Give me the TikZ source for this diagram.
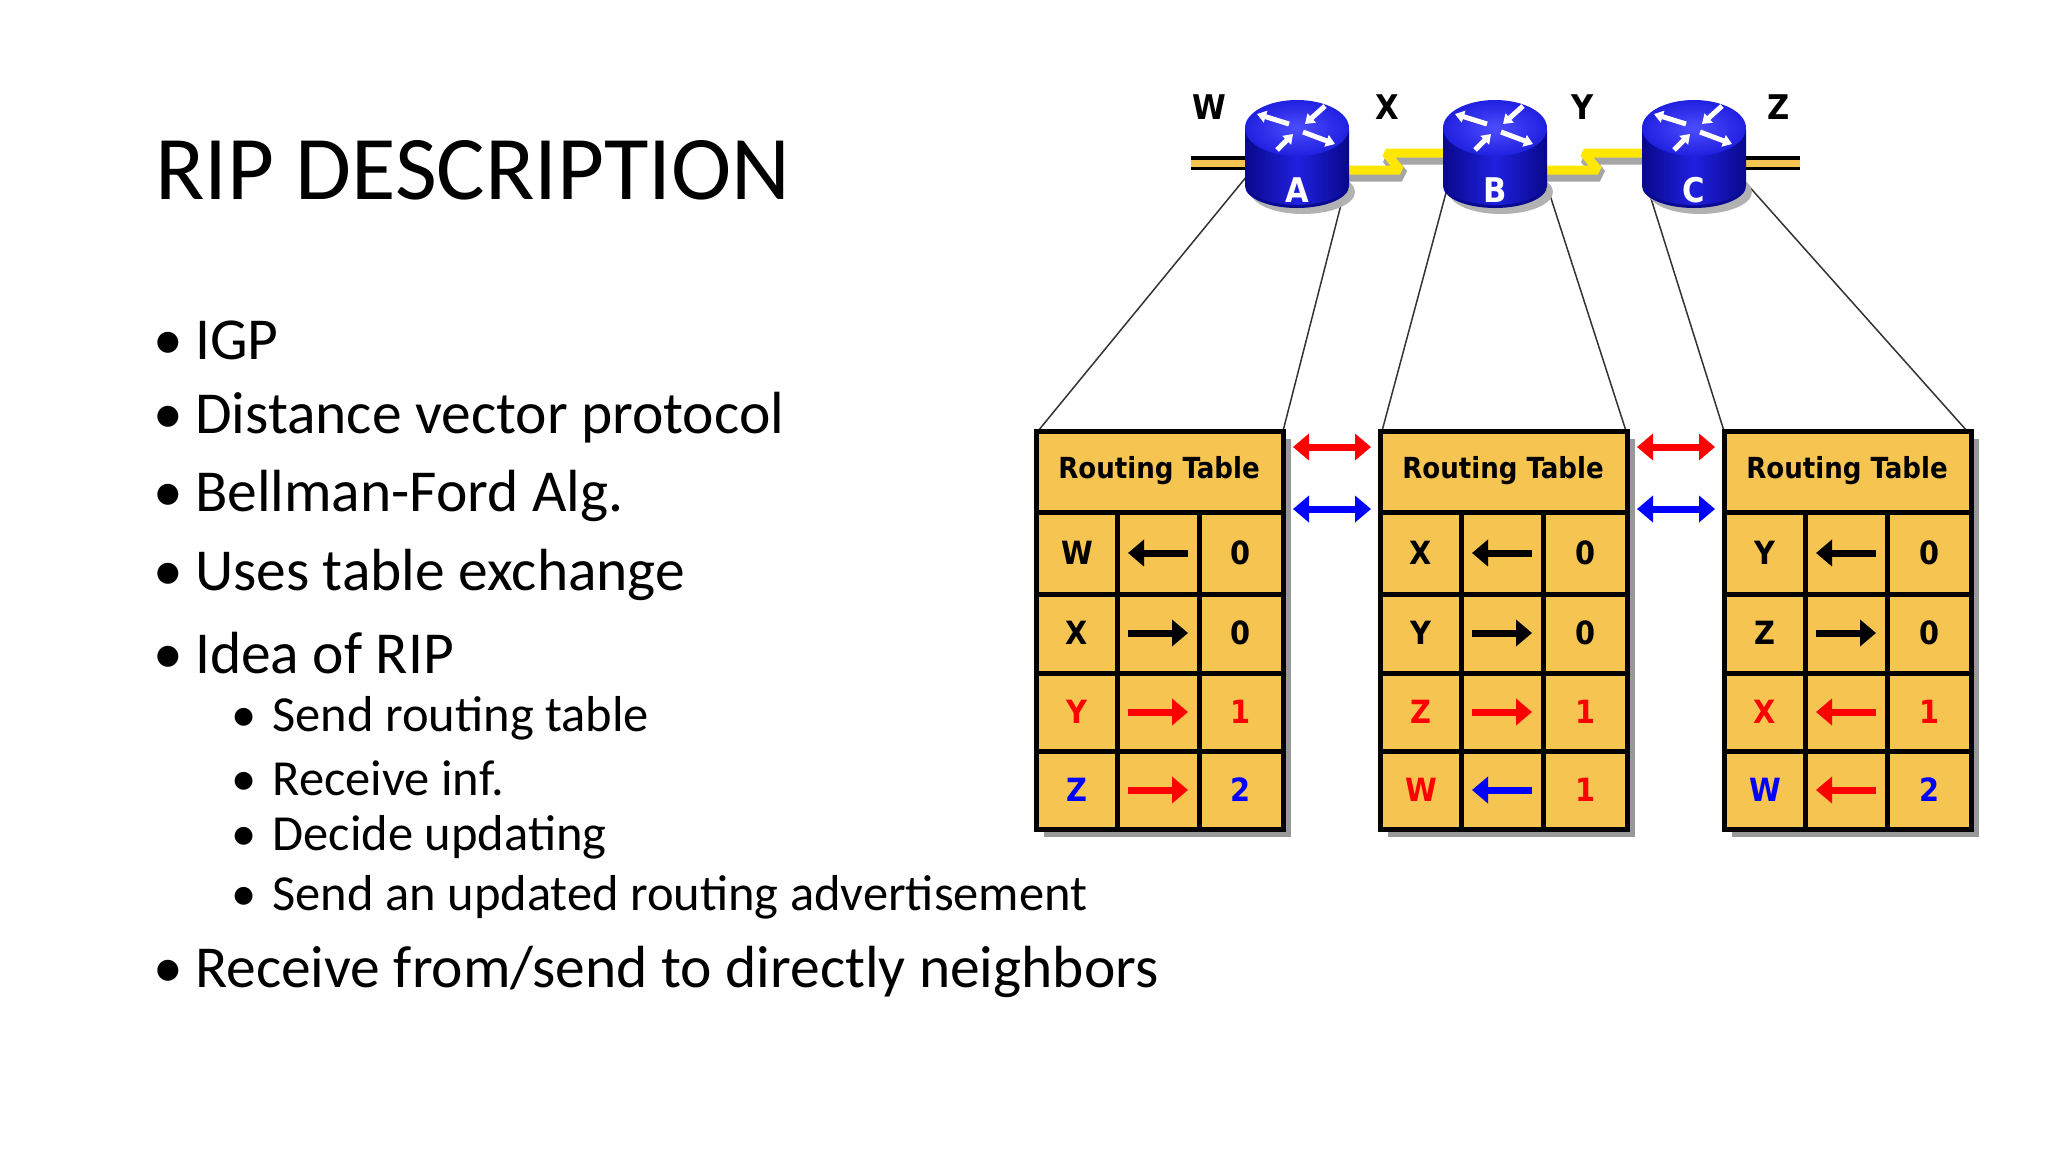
\documentclass[tikz,border=0pt]{standalone}
\usepackage{fontspec}
\setmainfont{Carlito}
\newfontfamily\tabfont{DejaVu Sans Condensed}
\usetikzlibrary{arrows.meta}
\definecolor{cellY}{HTML}{F5C451}
\definecolor{rb}{HTML}{2020E0}
\definecolor{rbd}{HTML}{0A0A90}
\begin{document}
\begin{tikzpicture}[x=1pt,y=-1pt,
  ttl/.style={anchor=west,font=\fontsize{91}{96}\selectfont},
  b1/.style={anchor=west,font=\fontsize{59.5}{64}\selectfont},
  b2/.style={anchor=west,font=\fontsize{50.5}{54}\selectfont},
  cell/.style={fill=cellY,draw=black,line width=5pt},
  ctext/.style={font=\tabfont\bfseries\fontsize{32}{36}\selectfont},
  htext/.style={font=\tabfont\bfseries\fontsize{29}{34}\selectfont},
  garr/.style={line width=7pt,-{Triangle[length=16pt,width=26pt]}},
  darr/.style={line width=7pt,{Triangle[length=16pt,width=26pt]}-{Triangle[length=16pt,width=26pt]}},
  lbl/.style={font=\tabfont\bfseries\fontsize{34}{38}\selectfont},
  guide/.style={line width=1.5pt,black!80},
  link/.style={line width=9pt,yellow!90!orange}
]
\useasboundingbox (0,0) rectangle (2048,1152);
\fill[white] (0,0) rectangle (2048,1152);
% text
\node[ttl] (title) at (152,170) {RIP DESCRIPTION};
\foreach \y/\t [count=\i] in {340/IGP,418/Distance vector protocol,496/Bellman-Ford Alg.,575/Uses table exchange,653/Idea of RIP,972/{Receive from/send to directly neighbors}}{
  \node[b1] (bul\i) at (150,\y) {•\hspace{12pt}\t};}
\foreach \y/\t [count=\i] in {718/Send routing table,778/Receive inf.,837/Decide updating,897/Send an updated routing advertisement}{
  \node[b2] (sub\i) at (228,\y) {•\hspace{16pt}\t};}
% buses and links
\draw[line width=14pt] (1191,163) -- (1250,163) (1740,163) -- (1800,163);
\draw[line width=7pt,cellY] (1191,163) -- (1250,163) (1740,163) -- (1800,163);
\foreach \xa in {1340,1538}{
  \draw[line width=13pt,black!35,line join=bevel] (\xa,175)--(\xa+62,175)--(\xa+48,158)--(\xa+115,158);
  \draw[link,line join=bevel] (\xa,170)--(\xa+60,170)--(\xa+46,153)--(\xa+115,153);
}
% guide lines
\draw[guide] (1247,176) -- (1038,431);
\draw[guide] (1345,189) -- (1283,431);
\draw[guide] (1447,189) -- (1382,431);
\draw[guide] (1548,189) -- (1626,431);
\draw[guide] (1648,189) -- (1724,431);
\draw[guide] (1746,183) -- (1967,431);
% routers
\foreach \cx/\L/\nm in {1297/A/rA,1495/B/rB,1694/C/rC}{
  \coordinate (\nm) at (\cx,154);
  \fill[black!30] (\cx+6,192) ellipse (52 and 22);
  \fill[rbd] (\cx-52,130) -- (\cx-52,186) arc[start angle=180,end angle=0,x radius=52,y radius=22] -- (\cx+52,130) -- cycle;
  \shade[left color=rbd,right color=rbd,middle color=rb] (\cx-49,130) -- (\cx-49,185) arc[start angle=180,end angle=0,x radius=49,y radius=20] -- (\cx+49,130) -- cycle;
  \shade[inner color=blue!70!white,outer color=rb] (\cx,128) ellipse (52 and 28);
  \begin{scope}[white,line width=5pt,-{Triangle[length=9pt,width=12pt]}]
    \draw (\cx-8,124) -- (\cx-40,114);
    \draw (\cx+28,106) -- (\cx+8,124);
    \draw (\cx+6,132) -- (\cx+38,144);
    \draw (\cx-20,150) -- (\cx-4,134);
  \end{scope}
  \node[lbl,white] (lab\L) at (\cx,190) {\L};
}
% labels
\node[lbl] (lW) at (1209,107) {W};
\node[lbl] (lX) at (1387,107) {X};
\node[lbl] (lY) at (1583,107) {Y};
\node[lbl] (lZ) at (1779,107) {Z};
% tables
\foreach \ox/\tn in {0/1,344/2,688/3}{
  \fill[black!40] (1044+\ox,439) rectangle (1291+\ox,837);
  \draw[cell] (1036+\ox,431) rectangle (1283+\ox,512);
  \node[htext] (hdr\tn) at (1159+\ox,471) {Routing Table};
  \foreach \ya/\yb in {512/594,594/673,673/751,751/829}{
    \draw[cell] (1036+\ox,\ya) rectangle (1117+\ox,\yb);
    \draw[cell] (1117+\ox,\ya) rectangle (1199+\ox,\yb);
    \draw[cell] (1199+\ox,\ya) rectangle (1283+\ox,\yb);
  }
}
\foreach \ox/\yy/\d/\dc/\dir/\ac/\m/\mc [count=\k] in {
  0/553/W/black/-1/black/0/black,
  0/633/X/black/1/black/0/black,
  0/712/Y/red/1/red/1/red,
  0/790/Z/blue/1/red/2/blue,
  344/553/X/black/-1/black/0/black,
  344/633/Y/black/1/black/0/black,
  344/712/Z/red/1/red/1/red,
  344/790/W/red/-1/blue/1/red,
  688/553/Y/black/-1/black/0/black,
  688/633/Z/black/1/black/0/black,
  688/712/X/red/-1/red/1/red,
  688/790/W/blue/-1/red/2/blue}{
  \node[ctext,text=\dc] (d\k) at (1077+\ox,\yy) {\d};
  \node[ctext,text=\mc] (m\k) at (1241+\ox,\yy) {\m};
  \coordinate (as\k) at (1158-30*\dir+\ox,\yy);
  \coordinate (ae\k) at (1158+30*\dir+\ox,\yy);
  \draw[garr,\ac] (as\k) -- (ae\k);
}
% exchange arrows
\foreach \xa/\i in {1293/1,1637/2}{
  \coordinate (rs\i) at (\xa,447); \coordinate (re\i) at (\xa+78,447);
  \coordinate (bs\i) at (\xa,509); \coordinate (be\i) at (\xa+78,509);
  \draw[darr,red] (rs\i) -- (re\i);
  \draw[darr,blue] (bs\i) -- (be\i);
}
\end{tikzpicture}
\end{document}
